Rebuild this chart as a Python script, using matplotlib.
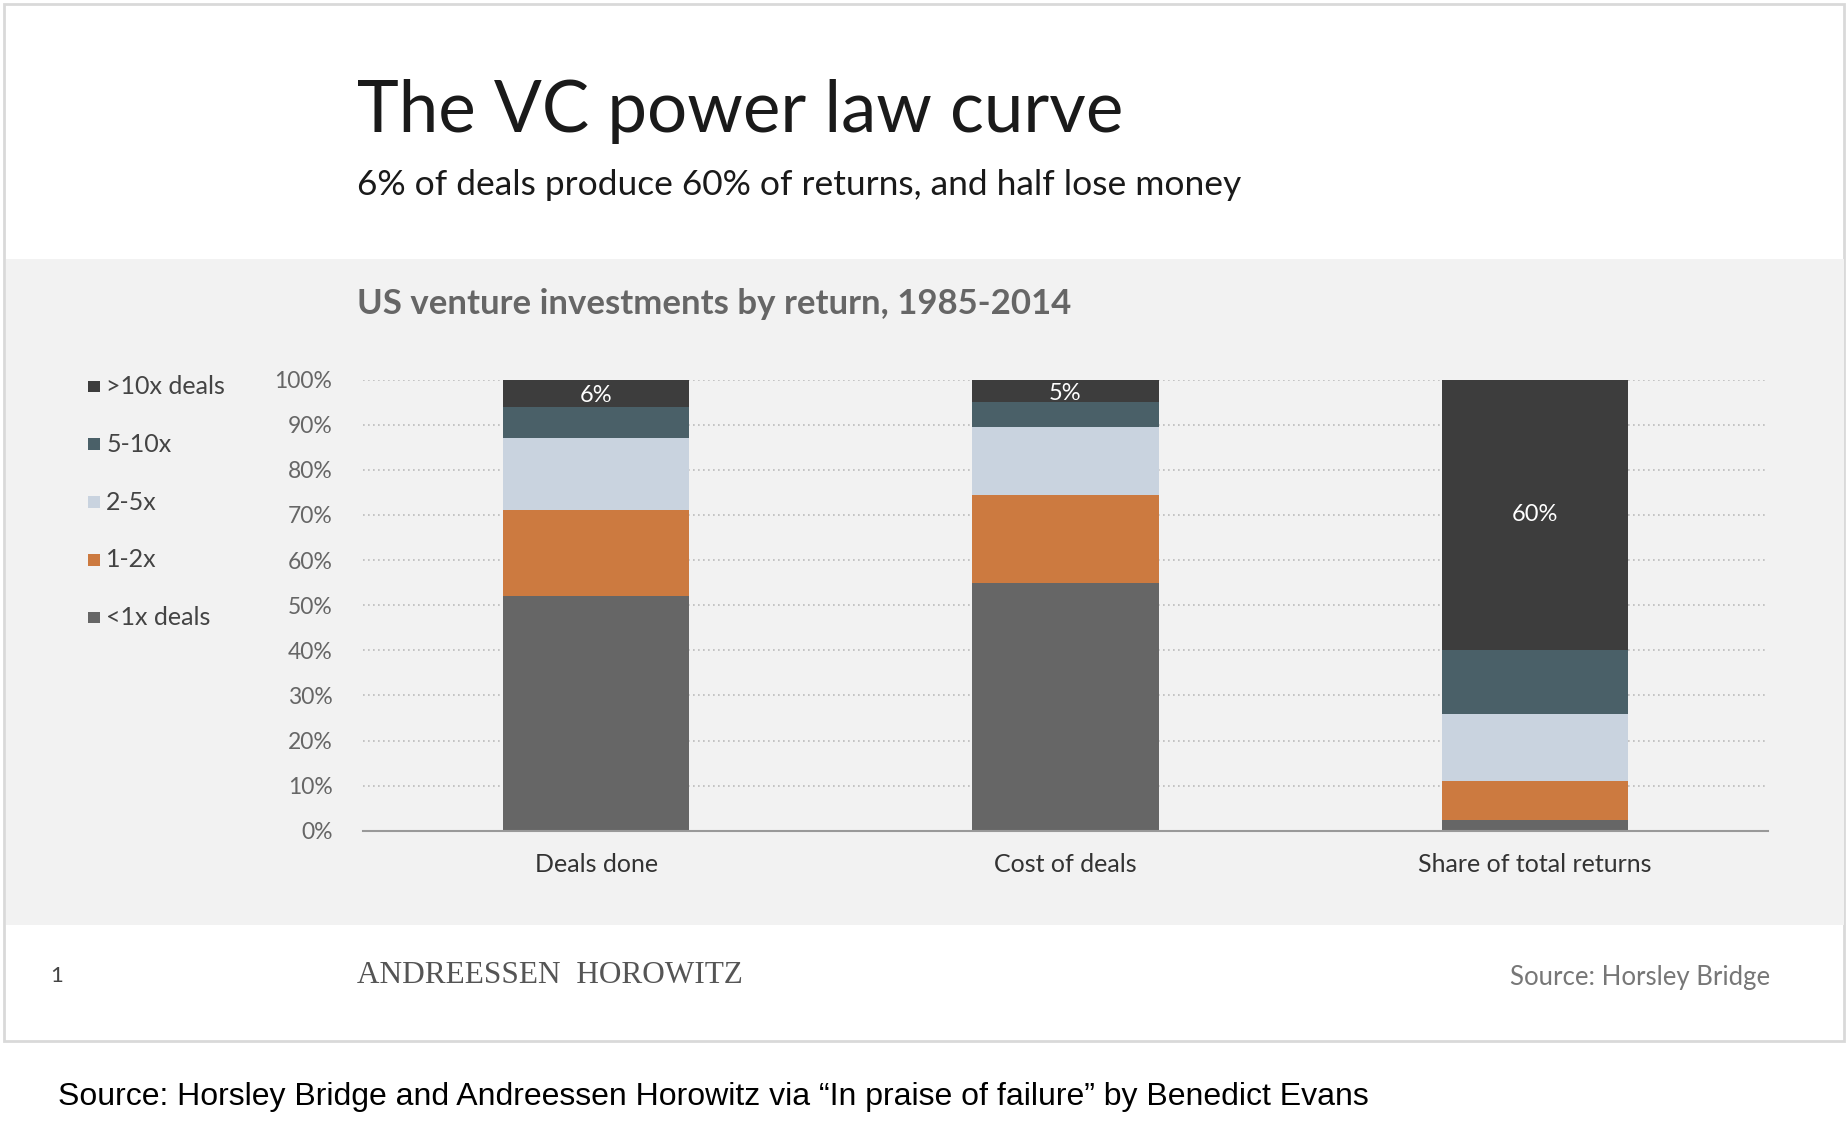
import matplotlib.pyplot as plt
from matplotlib.patches import Rectangle
import numpy as np

categories = ['Deals done', 'Cost of deals', 'Share of total returns']
series_names = ['<1x deals', '1-2x', '2-5x', '5-10x', '>10x deals']
lt1 = [52, 55, 2.5]
x1_2 = [19, 19.5, 8.5]
x2_5 = [16, 15, 15]
x5_10 = [7, 5.5, 14]
gt10 = [6, 5, 60]
labels_top = ['6%', '5%', '60%']
colors = ['#666666', '#cc7a40', '#c9d3df', '#4a6068', '#3d3d3d']

W, H = 1568, 963
fig = plt.figure(figsize=(18.48, 11.35), dpi=100)


def fx(x):
    return x / W


def fy(y):
    return 1 - y / H


# frame and panel
fig.patches.append(Rectangle((fx(3), fy(883)), fx(1562), (883 - 3) / H, transform=fig.transFigure,
                             facecolor='white', edgecolor='#d9d9d9', lw=2, zorder=-2))
fig.patches.append(Rectangle((fx(5), fy(785)), fx(1560), 565 / H, transform=fig.transFigure,
                             facecolor='#f2f2f2', edgecolor='none', zorder=-1))

fig.text(fx(303), fy(95), 'The VC power law curve', fontsize=51, color='#1a1a1a', va='center',
         family='Lato')
fig.text(fx(303), fy(157), '6% of deals produce 60% of returns, and half lose money', fontsize=25.5,
         color='#1a1a1a', va='center', family='Lato')
fig.text(fx(303), fy(258), 'US venture investments by return, 1985-2014', fontsize=25,
         color='#666666', va='center', family='Lato', weight='bold')

ax = fig.add_axes([fx(308), fy(705), 1192 / W, 383 / H])
ax.set_facecolor('none')
ax.set_zorder(2)
x = np.arange(len(categories))
data = [lt1, x1_2, x2_5, x5_10, gt10]
bottom = np.zeros(3)
for vals, c in zip(data, colors):
    ax.bar(x, vals, 0.397, bottom=bottom, color=c, zorder=3)
    bottom += np.array(vals)

tops = np.array(gt10)
for i, t in enumerate(labels_top):
    yv = 100 - tops[i] / 2 - 0.5 if tops[i] < 20 else 70
    ax.text(x[i], yv, t, ha='center', va='center', color='white', fontsize=17, zorder=4,
            family='Lato')

ax.set_xlim(-0.497, 2.497)
ax.set_ylim(0, 100)
ax.set_yticks(range(0, 101, 10))
ax.set_yticklabels([f'{v}%' for v in range(0, 101, 10)], fontsize=16.5, color='#666666', family='Lato')
ax.set_xticks(x)
ax.set_xticklabels(categories, fontsize=18, color='#333333', family='Lato')
ax.tick_params(length=0, pad=16)
ax.tick_params(axis='y', pad=22)
ax.yaxis.grid(True, linestyle=(0, (1, 2)), color='#bbbbbb', lw=1.2, zorder=0)
for s in ['top', 'right', 'left']:
    ax.spines[s].set_visible(False)
ax.spines['bottom'].set_color('#999999')
ax.spines['bottom'].set_linewidth(1.5)
ax.spines['bottom'].set_zorder(4)

# legend
leg_y = [328, 377, 426, 475, 524]
for name, c, yy in zip(series_names[::-1], colors[::-1], leg_y):
    fig.patches.append(Rectangle((fx(75), fy(yy + 5)), fx(10), 10 / H, transform=fig.transFigure,
                                 facecolor=c, edgecolor='none'))
    fig.text(fx(90), fy(yy), name, fontsize=18, color='#444444', va='center', family='Lato')

fig.text(fx(43), fy(828), '1', fontsize=16, color='#444444', va='center', family='Lato')
fig.text(fx(303), fy(828), 'ANDREESSEN  HOROWITZ', fontsize=22.5, color='#555555', va='center',
         family='Liberation Serif')
fig.text(fx(1502), fy(829), 'Source: Horsley Bridge', fontsize=18.5, color='#777777', va='center',
         ha='right', family='Lato')
fig.text(fx(49), fy(931), 'Source: Horsley Bridge and Andreessen Horowitz via \u201cIn praise of failure\u201d by Benedict Evans',
         fontsize=23, color='black', va='center', family='Liberation Sans')

fig.savefig('out.png', dpi=100)
